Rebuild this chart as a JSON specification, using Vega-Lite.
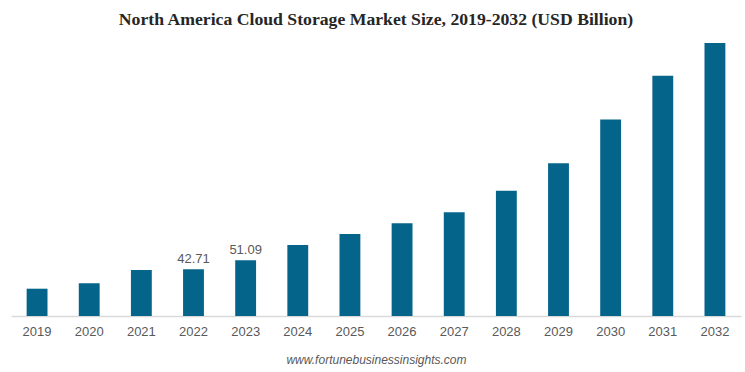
{
  "$schema": "https://vega.github.io/schema/vega-lite/v6.json",
  "width": 730,
  "height": 273,
  "autosize": "none",
  "padding": {"left": 11, "top": 43, "right": 4, "bottom": 56},
  "background": "white",
  "title": {
    "text": "North America Cloud Storage Market Size, 2019-2032 (USD Billion)",
    "font": "Liberation Serif",
    "fontSize": 17.7,
    "fontWeight": "bold",
    "color": "#262626",
    "anchor": "middle",
    "offset": 14
  },
  "data": {
    "values": [
      {"year": "2019", "value": 25.0},
      {"year": "2020", "value": 29.9},
      {"year": "2021", "value": 42.1},
      {"year": "2022", "value": 42.71, "label": "42.71"},
      {"year": "2023", "value": 51.09, "label": "51.09"},
      {"year": "2024", "value": 65.0},
      {"year": "2025", "value": 75.1},
      {"year": "2026", "value": 84.9},
      {"year": "2027", "value": 95.0},
      {"year": "2028", "value": 114.8},
      {"year": "2029", "value": 139.8},
      {"year": "2030", "value": 179.9},
      {"year": "2031", "value": 220.1},
      {"year": "2032", "value": 250.0}
    ]
  },
  "encoding": {
    "x": {
      "field": "year",
      "type": "ordinal",
      "scale": {"paddingInner": 0.6, "paddingOuter": 0.3},
      "axis": {
        "title": "www.fortunebusinessinsights.com",
        "titleFont": "Liberation Sans",
        "titleFontSize": 12,
        "titleFontStyle": "italic",
        "titleFontWeight": "normal",
        "titleColor": "#595959",
        "titlePadding": 16,
        "labelAngle": 0,
        "labelFont": "Liberation Sans",
        "labelFontSize": 13,
        "labelColor": "#595959",
        "labelPadding": 9,
        "ticks": false,
        "domainColor": "#d9d9d9",
        "domainWidth": 1.5
      }
    },
    "y": {
      "field": "value",
      "type": "quantitative",
      "scale": {"domain": [0, 250], "nice": false},
      "axis": null
    }
  },
  "layer": [
    {"mark": {"type": "bar", "color": "#05648a"}},
    {
      "transform": [{"filter": "datum.label != null"}],
      "mark": {"type": "text", "baseline": "bottom", "dy": -3, "font": "Liberation Sans", "fontSize": 13, "color": "#595959"},
      "encoding": {"text": {"field": "label"}}
    }
  ],
  "config": {"view": {"stroke": null}}
}
